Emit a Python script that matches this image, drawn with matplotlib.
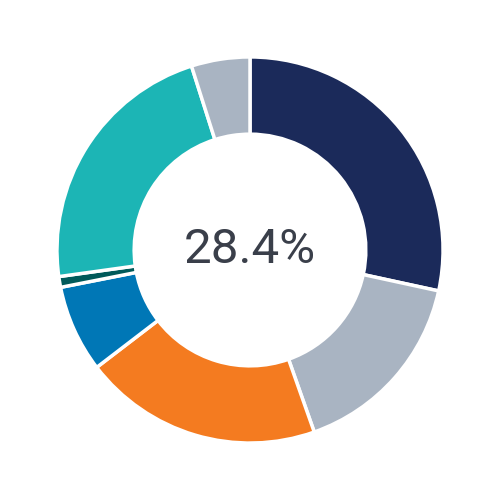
import matplotlib
matplotlib.use("Agg")
import matplotlib.pyplot as plt

# slice shares (percent), clockwise from 12 o'clock
labels = ["A", "B", "C", "D", "E", "F", "G"]
values = [28.4, 16.2, 20.0, 7.3, 0.9, 22.3, 4.9]
colors = ["#1b2a5a", "#a9b4c2", "#f47b20", "#0077b6", "#005a5a", "#1cb5b5", "#a9b4c2"]
center_label = "28.4%"

fig = plt.figure(figsize=(5, 5), dpi=100)
fig.patch.set_facecolor("white")
ax = fig.add_axes([0, 0, 1, 1])

ax.pie(values, colors=colors, startangle=90, counterclock=False,
       radius=1.0,
       wedgeprops={"width": 0.4, "edgecolor": "white", "linewidth": 2.5})

ax.text(0, 0, center_label, ha="center", va="center",
        fontsize=35.5, color="#3a3f4a", family=["Roboto", "DejaVu Sans"])

ax.set_xlim(-1.295, 1.295)
ax.set_ylim(-1.295, 1.295)
ax.set_aspect("equal")
ax.axis("off")

fig.savefig("out.png", dpi=100, facecolor="white")
